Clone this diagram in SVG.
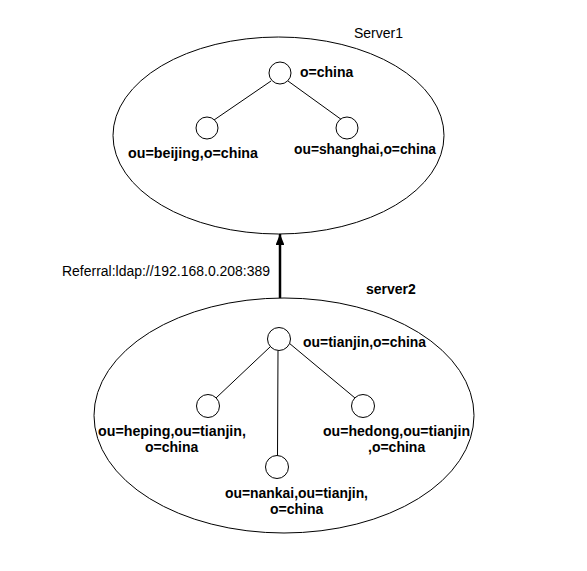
<svg xmlns="http://www.w3.org/2000/svg" width="587" height="571" viewBox="0 0 587 571">
<defs>
<style>
.ell{fill:none;stroke:#000;stroke-width:1}
.nd{fill:#fff;stroke:#000;stroke-width:1}
.ln{stroke:#000;stroke-width:1;fill:none}
.b{font-family:"Liberation Sans",Arial,sans-serif;font-size:14px;font-weight:bold;fill:#000}
.r{font-family:"Liberation Sans",Arial,sans-serif;font-size:14px;fill:#000}
</style>
<marker id="ah" viewBox="0 0 10 10" refX="10" refY="5" markerWidth="4.4" markerHeight="3.5" orient="auto" markerUnits="strokeWidth" preserveAspectRatio="none">
<path d="M0,0 L10,5 L0,10 Z" fill="#000"/>
</marker>
</defs>
<rect width="587" height="571" fill="#fff"/>
<g id="server1">
<ellipse class="ell" cx="278.5" cy="135.5" rx="165.5" ry="98.5"/>
<text class="r" x="354" y="38">Server1</text>
</g>
<g id="server2">
<ellipse class="ell" cx="284" cy="415.5" rx="190" ry="117.5"/>
<text class="b" x="366" y="294">server2</text>
</g>
<g id="connectors">
<line class="ln" x1="271" y1="81" x2="214" y2="120"/>
<line class="ln" x1="288" y1="81" x2="342" y2="120"/>
<line class="ln" x1="270" y1="347" x2="216" y2="398"/>
<line class="ln" x1="289" y1="343" x2="355" y2="398"/>
<line class="ln" x1="278" y1="350.5" x2="277.5" y2="456"/>
<line x1="280" y1="298" x2="280" y2="234" stroke="#000" stroke-width="2.5" marker-end="url(#ah)"/>
<text class="r" x="62" y="276" textLength="208" lengthAdjust="spacingAndGlyphs">Referral:ldap://192.168.0.208:389</text>
</g>
<g id="n-china">
<circle class="nd" cx="280" cy="73" r="11"/>
<text class="b" x="300" y="77">o=china</text>
</g>
<g id="n-beijing">
<circle class="nd" cx="207" cy="128" r="11"/>
<text class="b" x="128" y="158" textLength="130" lengthAdjust="spacingAndGlyphs">ou=beijing,o=china</text>
</g>
<g id="n-shanghai">
<circle class="nd" cx="347" cy="128" r="11"/>
<text class="b" x="294" y="154" textLength="142" lengthAdjust="spacingAndGlyphs">ou=shanghai,o=china</text>
</g>
<g id="n-tianjin">
<circle class="nd" cx="279" cy="339" r="11.5"/>
<text class="b" x="303" y="347" textLength="123" lengthAdjust="spacingAndGlyphs">ou=tianjin,o=china</text>
</g>
<g id="n-heping">
<circle class="nd" cx="208" cy="406" r="11.5"/>
<text class="b" x="98" y="436" textLength="148" lengthAdjust="spacingAndGlyphs">ou=heping,ou=tianjin,</text>
<text class="b" x="145" y="452">o=china</text>
</g>
<g id="n-hedong">
<circle class="nd" cx="363" cy="406" r="11.5"/>
<text class="b" x="323" y="436" textLength="147" lengthAdjust="spacingAndGlyphs">ou=hedong,ou=tianjin</text>
<text class="b" x="368" y="452">,o=china</text>
</g>
<g id="n-nankai">
<circle class="nd" cx="277" cy="467" r="11.5"/>
<text class="b" x="225" y="498" textLength="143" lengthAdjust="spacingAndGlyphs">ou=nankai,ou=tianjin,</text>
<text class="b" x="270" y="514">o=china</text>
</g>
</svg>
